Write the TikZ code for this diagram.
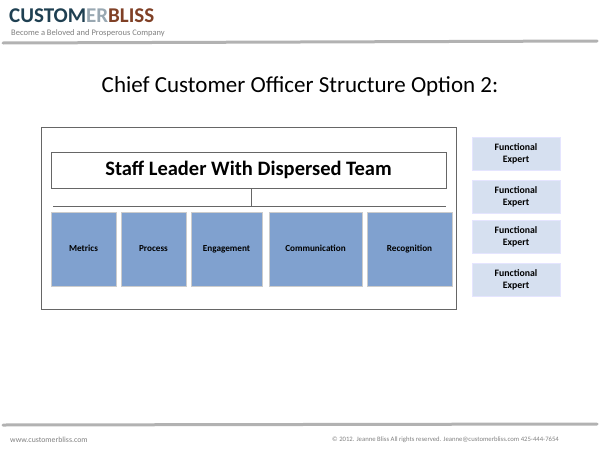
\documentclass[tikz,border=0pt]{standalone}
\usepackage{fontspec}
\setmainfont{Carlito}
\begin{document}
\begin{tikzpicture}[x=1pt,y=-1pt,
  team/.style={draw=white!80!black,fill={rgb,255:red,128;green,161;blue,207},font=\bfseries\fontsize{9.2}{10}\selectfont,inner sep=0,text height=1.5ex,text depth=.4ex},
  fe/.style={fill={rgb,255:red,214;green,224;blue,240},draw=white!90!blue,font=\bfseries\fontsize{9.8}{12}\selectfont,align=center,inner sep=0}]
\useasboundingbox (0,0) rectangle (600,450);
\node[anchor=west,font=\bfseries\fontsize{21}{21}\selectfont,inner sep=0] (logo) at (9,16) {\textcolor[rgb]{0.12,0.25,0.32}{CUSTOM}\textcolor[rgb]{0.6,0.66,0.7}{ER}\textcolor[rgb]{0.5,0.25,0.15}{BLISS}};
\node[anchor=west,font=\fontsize{8.5}{9}\selectfont,text=gray,inner sep=0] (tag) at (11,33) {Become a Beloved and Prosperous Company};
\draw[line width=3pt,gray!60,line cap=round] (3,43) -- (597,41);
\draw[line width=3pt,gray!60,line cap=round] (3,425) -- (597,424);
\node[anchor=west,font=\fontsize{7.8}{8}\selectfont,text=gray,inner sep=0] (url) at (10,440) {www.customerbliss.com};
\node[anchor=west,font=\fontsize{6.7}{7}\selectfont,text=gray,inner sep=0] (copy) at (332,440) {© 2012. Jeanne Bliss All rights reserved. Jeanne@customerbliss.com 425-444-7654};
\node[font=\fontsize{23}{24}\selectfont,inner sep=0] (title) at (300,86) {Chief Customer Officer Structure Option 2:};
\draw[gray!80!black,line width=0.8pt] (41,127) rectangle (456,309);
\node[draw=gray!80!black,line width=0.6pt,minimum width=395,minimum height=36,inner sep=0,font=\bfseries\fontsize{20.5}{21}\selectfont] (lead) at (248.5,170) {Staff Leader With Dispersed Team};
\coordinate (j) at (251,206);
\draw[gray!80!black,line width=0.6pt] (lead.south -| j) -- (j);
\draw[gray!80!black,line width=0.6pt] (53,206) -- (446,206);
\node[team,minimum width=65,minimum height=74] (m) at (83.5,249) {Metrics};
\node[team,minimum width=65,minimum height=74] (p) at (153.5,249) {Process};
\node[team,minimum width=71,minimum height=74] (e) at (226.5,249) {Engagement};
\node[team,minimum width=93,minimum height=74] (c) at (315.5,249) {Communication};
\node[team,minimum width=85,minimum height=74] (r) at (409.5,249) {Recognition};
\foreach \y/\n in {153.5/f1,196.5/f2,237/f3,279.5/f4}
  \node[fe,minimum width=88,minimum height=33] (\n) at (516,\y) {Functional\\Expert};
\end{tikzpicture}
\end{document}
